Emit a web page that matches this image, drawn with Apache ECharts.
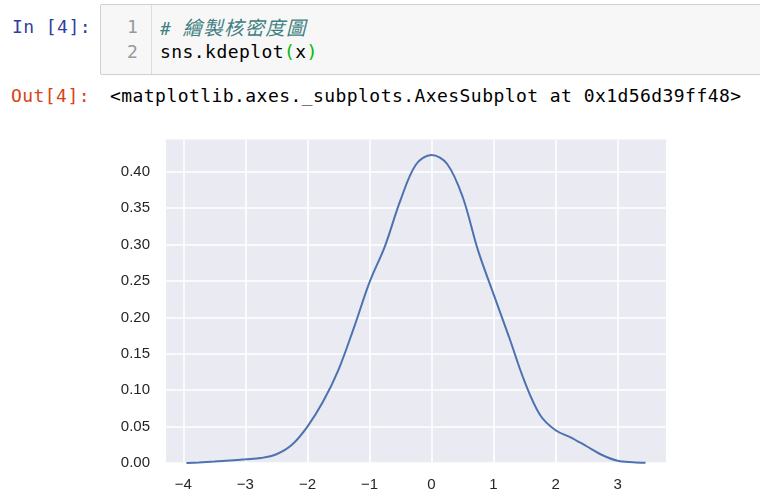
<!DOCTYPE html>
<html>
<head>
<meta charset="utf-8">
<script src="https://cdn.jsdelivr.net/npm/echarts@6/dist/echarts.min.js"></script>
<style>
  html, body { margin: 0; padding: 0; background: #fff; }
  body { width: 760px; height: 503px; position: relative; overflow: hidden; }
  .mono { font-family: "DejaVu Sans Mono", "Liberation Mono", monospace; font-size: 18px; letter-spacing: 0.44px; line-height: 20px; white-space: pre; position: absolute; }
  #cell { position: absolute; left: 100px; top: 4px; width: 700px; height: 69px; background: #f7f7f7; border: 1px solid #cfcfcf; border-radius: 2px; }
  #gutter { position: absolute; left: 151px; top: 5px; width: 1px; height: 69px; background: #dddddd; }
  .ln { color: #999999; }
  .cm { color: #408080; font-style: italic; }
  .cjk { font-family: "Noto Sans CJK TC", sans-serif; font-size: 19.5px; letter-spacing: 1.2px; font-style: italic; }
  .br { color: #00bb00; }
  #chart { position: absolute; left: 0; top: 0; width: 760px; height: 503px; }
</style>
</head>
<body>
<div class="mono" style="left:12px;top:17px;color:#303F9F;">In [4]:</div>
<div id="cell"></div>
<div id="gutter"></div>
<div class="mono ln" style="left:127px;top:17px;">1</div>
<div class="mono ln" style="left:127px;top:42px;">2</div>
<div class="mono cm" style="left:160px;top:17px;"># <span class="cjk">繪製核密度圖</span></div>
<div class="mono" style="left:160px;top:42px;color:#000;">sns.kdeplot<span class="br">(</span>x<span class="br">)</span></div>
<div class="mono" style="left:11px;top:86px;color:#D84315;">Out[4]:</div>
<div class="mono" style="left:110px;top:86px;color:#000;">&lt;matplotlib.axes._subplots.AxesSubplot at 0x1d56d39ff48&gt;</div>
<div id="chart"></div>
<script>
// KDE curve
const xs = [-3.95, -3.75, -3.5, -3.25, -3.0, -2.75, -2.5, -2.25, -2.0, -1.75, -1.5, -1.25, -1.0, -0.75, -0.5, -0.25, 0.0, 0.25, 0.5, 0.75, 1.0, 1.25, 1.5, 1.75, 2.0, 2.25, 2.5, 2.75, 3.0, 3.25, 3.45];
const ys = [0.000, 0.0008, 0.002, 0.0035, 0.005, 0.0068, 0.012, 0.025, 0.050, 0.084, 0.128, 0.186, 0.248, 0.298, 0.361, 0.410, 0.423, 0.411, 0.366, 0.292, 0.232, 0.173, 0.112, 0.066, 0.045, 0.035, 0.023, 0.011, 0.003, 0.001, 0.0003];
const xTicks = [-4, -3, -2, -1, 0, 1, 2, 3];
const yTicks = [0, 0.05, 0.10, 0.15, 0.20, 0.25, 0.30, 0.35, 0.40];

const points = xs.map((x, i) => [x, ys[i]]);
const labelStyle = { color: '#262626', fontSize: 15, fontFamily: 'Liberation Sans, Arial, sans-serif' };

const chart = echarts.init(document.getElementById('chart'), null, { renderer: 'canvas' });
chart.setOption({
  animation: false,
  grid: { left: 166, right: 94, top: 139.5, bottom: 40, show: true, backgroundColor: '#EAEAF2', borderWidth: 0 },
  xAxis: {
    type: 'value', min: -4.28, max: 3.78,
    axisLine: { show: false },
    axisTick: { show: false, customValues: xTicks },
    axisLabel: Object.assign({ customValues: xTicks, margin: 14, formatter: v => String(v).replace('-', '\u2212') }, labelStyle),
    splitLine: { show: true, lineStyle: { color: '#ffffff', width: 1.6 } }
  },
  yAxis: {
    type: 'value', min: 0, max: 0.4443,
    axisLine: { show: false },
    axisTick: { show: false, customValues: yTicks },
    axisLabel: Object.assign({ customValues: yTicks, margin: 16, formatter: v => v.toFixed(2) }, labelStyle),
    splitLine: { show: true, lineStyle: { color: '#ffffff', width: 1.6 } }
  },
  series: [{
    type: 'line',
    data: points,
    smooth: 0.35,
    showSymbol: false,
    lineStyle: { color: '#4C72B0', width: 2 }
  }]
});
</script>
</body>
</html>
